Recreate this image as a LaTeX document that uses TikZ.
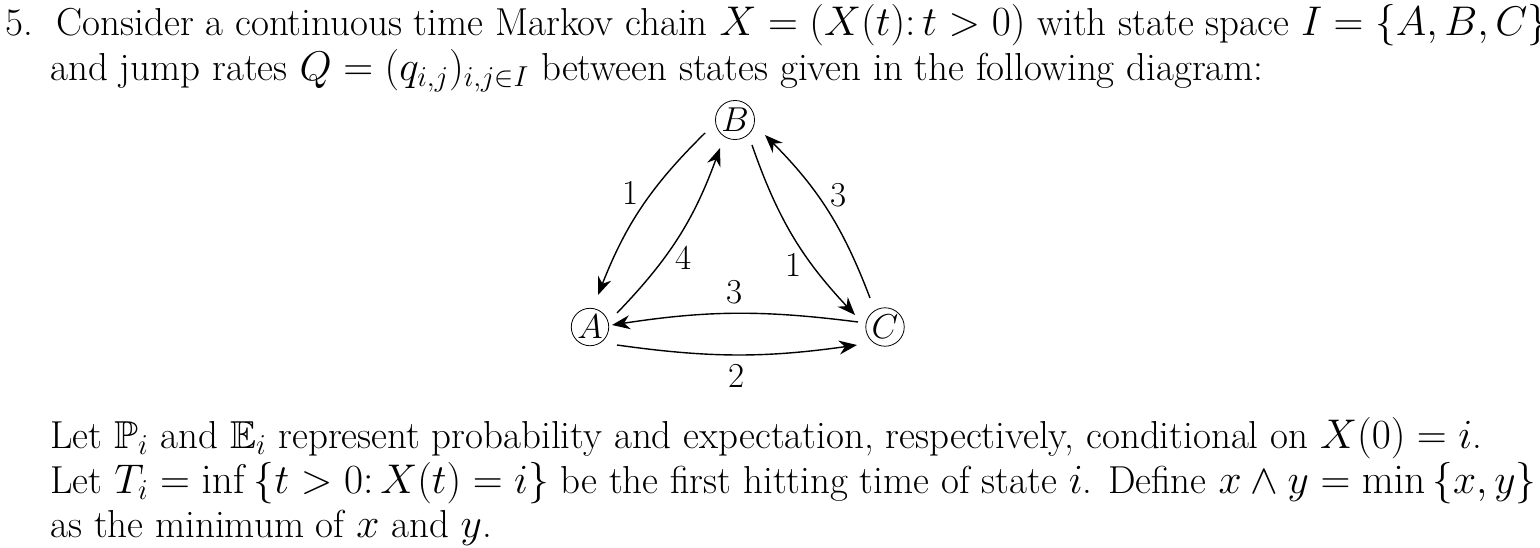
\documentclass[tikz,border=0pt]{standalone}
\usepackage{amssymb}
\usetikzlibrary{arrows.meta,calc}
\begin{document}
\begin{tikzpicture}[x=0.5pt,y=-0.5pt,
  st/.style={circle,draw,inner sep=0.5pt,minimum size=36*0.5pt,font=\fontsize{17}{20}\selectfont},
  ar/.style={-{Stealth[length=9pt,width=7pt]},line width=0.7pt},
  lb/.style={font=\fontsize{17.5}{20}\selectfont},
  tx/.style={anchor=base west,inner sep=0pt,font=\fontsize{19.5}{22}\selectfont}]
\useasboundingbox (0,0) rectangle (1540,547);
\node[tx] (l1) at (5,35) {5.\ \ Consider a continuous time Markov chain $X=(X(t)\colon t>0)$ with state space $I=\{A,B,C\}$};
\node[tx] (l2) at (50,80) {and jump rates $Q=(q_{i,j})_{i,j\in I}$ between states given in the following diagram:};
\node[tx] (l3) at (50,448) {Let $\mathbb{P}_i$ and $\mathbb{E}_i$ represent probability and expectation, respectively, conditional on $X(0)=i$.};
\node[tx] (l4) at (50,493) {Let $T_i=\inf\,\{t>0\colon X(t)=i\}$ be the first hitting time of state $i$. Define $x\wedge y=\min\,\{x,y\}$};
\node[tx] (l5) at (50,537) {as the minimum of $x$ and $y$.};
\node[st] (B) at (735,120) {$B$};
\node[st] (A) at (590,327) {$A$};
\node[st] (C) at (885,327) {$C$};
\draw[ar] ($(B)+(-30,13)$) to[bend right=12] node[lb,above left=-2pt] {1} ($(A)+(8,-32)$);
\draw[ar] ($(A)+(27,-14)$) to[bend right=12] node[lb,below right=-3pt,pos=0.45] {4} ($(B)+(-15,28)$);
\draw[ar] ($(B)+(17,25)$) to[bend right=12] node[lb,below left=-3pt,pos=0.6] {1} ($(C)+(-30,-12)$);
\draw[ar] ($(C)+(-15,-29)$) to[bend right=12] node[lb,above right=-2pt] {3} ($(B)+(30,15)$);
\draw[ar] ($(C)+(-27,-5)$) to[bend right=8] node[lb,above=1pt] {3} ($(A)+(22,-2)$);
\draw[ar] ($(A)+(27,18)$) to[bend right=8] node[lb,below=1pt] {2} ($(C)+(-28,18)$);
\end{tikzpicture}
\end{document}
